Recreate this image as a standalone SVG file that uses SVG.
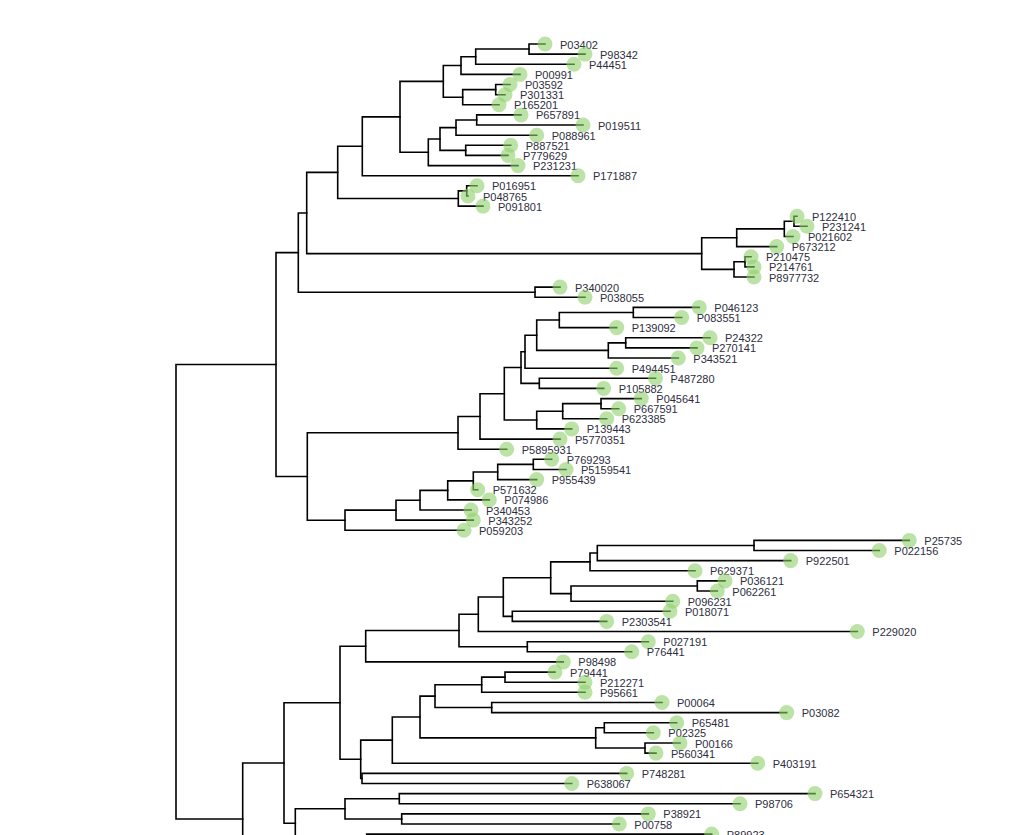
<svg xmlns="http://www.w3.org/2000/svg" width="1018" height="835" viewBox="0 0 1018 835">
<style>
.e{fill:none;stroke:#000;stroke-width:1.6;stroke-linecap:square}
.t circle{fill:#8fd16a;fill-opacity:.6;stroke:none}
.t text{font-family:"Liberation Sans",Arial,sans-serif;font-size:11px;fill:#2e2e3e}
</style>
<rect width="1018" height="835" fill="#fff"/>
<g id="connectors">
<path class="e" d="M545 44.0 H529 V54.1 H585"/>
<path class="e" d="M529 49.05 H475.7 V64.3 H574"/>
<path class="e" d="M475.7 56.7 H461 V74.4 H520"/>
<path class="e" d="M510 84.5 H495.7 V94.7 H505"/>
<path class="e" d="M495.7 89.6 H462.7 V104.8 H499"/>
<path class="e" d="M461 65.55 H443.3 V97.2 H462.7"/>
<path class="e" d="M521 114.9 H476.7 V125.0 H583"/>
<path class="e" d="M476.7 119.95 H456 V135.2 H536.7"/>
<path class="e" d="M510.7 145.3 H465.7 V155.4 H508"/>
<path class="e" d="M456 127.6 H440 V150.35 H465.7"/>
<path class="e" d="M440 139.0 H428.3 V165.6 H518"/>
<path class="e" d="M443.3 81.4 H400 V152.3 H428.3"/>
<path class="e" d="M400 116.85 H362.3 V175.7 H578"/>
<path class="e" d="M477 185.8 H466.7 V196.0 H468"/>
<path class="e" d="M466.7 190.9 H458.3 V206.1 H483"/>
<path class="e" d="M362.3 146.3 H337.7 V198.5 H458.3"/>
<path class="e" d="M797 216.2 H794 V226.3 H807"/>
<path class="e" d="M794 221.25 H784.3 V236.5 H793"/>
<path class="e" d="M784.3 228.9 H736.7 V246.6 H776.7"/>
<path class="e" d="M751 256.7 H745 V266.9 H754"/>
<path class="e" d="M745 261.8 H734 V277.0 H754"/>
<path class="e" d="M736.7 237.75 H701.7 V269.4 H734"/>
<path class="e" d="M337.7 172.4 H306.7 V253.6 H701.7"/>
<path class="e" d="M560 287.1 H535 V297.3 H585"/>
<path class="e" d="M306.7 213.0 H298.3 V292.2 H535"/>
<path class="e" d="M699.3 307.4 H633.3 V317.5 H681.7"/>
<path class="e" d="M633.3 312.45 H559.3 V327.6 H616.7"/>
<path class="e" d="M710 337.8 H625.7 V347.9 H697"/>
<path class="e" d="M625.7 342.85 H608.3 V358.0 H678.3"/>
<path class="e" d="M559.3 320.0 H536.7 V350.4 H608.3"/>
<path class="e" d="M536.7 335.2 H525 V368.2 H616.7"/>
<path class="e" d="M655.5 378.3 H539.3 V388.4 H603.7"/>
<path class="e" d="M525 351.7 H521 V383.35 H539.3"/>
<path class="e" d="M641.3 398.6 H601 V408.7 H618.7"/>
<path class="e" d="M601 403.65 H562.7 V418.8 H606.7"/>
<path class="e" d="M562.7 411.2 H536.7 V428.9 H571.7"/>
<path class="e" d="M521 367.5 H504.3 V420.05 H536.7"/>
<path class="e" d="M504.3 393.8 H480 V439.1 H560"/>
<path class="e" d="M480 416.45 H458 V449.2 H506.7"/>
<path class="e" d="M551.7 459.3 H533.3 V469.5 H566"/>
<path class="e" d="M533.3 464.4 H497.7 V479.6 H536.7"/>
<path class="e" d="M497.7 472.0 H473.3 V489.7 H477.7"/>
<path class="e" d="M473.3 480.85 H447.7 V499.9 H489.3"/>
<path class="e" d="M447.7 490.4 H420 V510.0 H471"/>
<path class="e" d="M420 500.2 H396 V520.1 H473.3"/>
<path class="e" d="M396 510.15 H345 V530.2 H464"/>
<path class="e" d="M458 432.8 H307.3 V520.2 H345"/>
<path class="e" d="M298.3 252.6 H276 V476.5 H307.3"/>
<path class="e" d="M909.3 540.4 H754 V550.5 H879.3"/>
<path class="e" d="M754 545.45 H597.3 V560.6 H790.7"/>
<path class="e" d="M597.3 553.0 H590 V570.8 H695"/>
<path class="e" d="M725 580.9 H697.3 V591.0 H717.3"/>
<path class="e" d="M697.3 585.95 H571 V601.2 H672.7"/>
<path class="e" d="M590 561.9 H550.7 V593.6 H571"/>
<path class="e" d="M670 611.3 H512.3 V621.4 H606.7"/>
<path class="e" d="M550.7 577.75 H503.3 V616.35 H512.3"/>
<path class="e" d="M503.3 597.05 H478.3 V631.5 H857.3"/>
<path class="e" d="M648.3 641.7 H527.3 V651.8 H631.7"/>
<path class="e" d="M478.3 614.3 H459 V646.75 H527.3"/>
<path class="e" d="M459 630.5 H365.7 V661.9 H563.3"/>
<path class="e" d="M555 672.1 H505 V682.2 H585"/>
<path class="e" d="M505 677.15 H481.7 V692.3 H585"/>
<path class="e" d="M662 702.5 H491.7 V712.6 H786.7"/>
<path class="e" d="M481.7 684.7 H435 V707.55 H491.7"/>
<path class="e" d="M676.7 722.7 H604.3 V732.8 H653.3"/>
<path class="e" d="M680 743.0 H645 V753.1 H656"/>
<path class="e" d="M604.3 727.75 H595.7 V748.05 H645"/>
<path class="e" d="M435 696.1 H420 V737.9 H595.7"/>
<path class="e" d="M420 717.0 H392.3 V763.2 H757.7"/>
<path class="e" d="M626.7 773.4 H362 V783.5 H571.7"/>
<path class="e" d="M392.3 740.1 H360.7 V778.45 H362"/>
<path class="e" d="M365.7 646.2 H340 V759.3 H360.7"/>
<path class="e" d="M815 793.6 H399.3 V803.8 H740"/>
<path class="e" d="M648.3 813.9 H401.7 V824.0 H619.3"/>
<path class="e" d="M399.3 798.7 H345 V818.95 H401.7"/>
<path class="e" d="M711.7 834.1 H366.7 V850"/>
<path class="e" d="M345 808.8 H295.3 V837.8 H366.7"/>
<path class="e" d="M340 702.75 H284 V823.3 H295.3"/>
<path class="e" d="M284 763.0 H242.7 V880"/>
<path class="e" d="M276 364.55 H176 V819 H242.7"/>
</g>
<g id="tip-P03402" class="t"><circle cx="545" cy="44.0" r="7.5"/><text x="560" y="48.5">P03402</text></g>
<g id="tip-P98342" class="t"><circle cx="585" cy="54.1" r="7.5"/><text x="600" y="58.6">P98342</text></g>
<g id="tip-P44451" class="t"><circle cx="574" cy="64.3" r="7.5"/><text x="589" y="68.8">P44451</text></g>
<g id="tip-P00991" class="t"><circle cx="520" cy="74.4" r="7.5"/><text x="535" y="78.9">P00991</text></g>
<g id="tip-P03592" class="t"><circle cx="510" cy="84.5" r="7.5"/><text x="525" y="89.0">P03592</text></g>
<g id="tip-P301331" class="t"><circle cx="505" cy="94.7" r="7.5"/><text x="520" y="99.2">P301331</text></g>
<g id="tip-P165201" class="t"><circle cx="499" cy="104.8" r="7.5"/><text x="514" y="109.3">P165201</text></g>
<g id="tip-P657891" class="t"><circle cx="521" cy="114.9" r="7.5"/><text x="536" y="119.4">P657891</text></g>
<g id="tip-P019511" class="t"><circle cx="583" cy="125.0" r="7.5"/><text x="598" y="129.5">P019511</text></g>
<g id="tip-P088961" class="t"><circle cx="536.7" cy="135.2" r="7.5"/><text x="551.7" y="139.7">P088961</text></g>
<g id="tip-P887521" class="t"><circle cx="510.7" cy="145.3" r="7.5"/><text x="525.7" y="149.8">P887521</text></g>
<g id="tip-P779629" class="t"><circle cx="508" cy="155.4" r="7.5"/><text x="523" y="159.9">P779629</text></g>
<g id="tip-P231231" class="t"><circle cx="518" cy="165.6" r="7.5"/><text x="533" y="170.1">P231231</text></g>
<g id="tip-P171887" class="t"><circle cx="578" cy="175.7" r="7.5"/><text x="593" y="180.2">P171887</text></g>
<g id="tip-P016951" class="t"><circle cx="477" cy="185.8" r="7.5"/><text x="492" y="190.3">P016951</text></g>
<g id="tip-P048765" class="t"><circle cx="468" cy="196.0" r="7.5"/><text x="483" y="200.5">P048765</text></g>
<g id="tip-P091801" class="t"><circle cx="483" cy="206.1" r="7.5"/><text x="498" y="210.6">P091801</text></g>
<g id="tip-P122410" class="t"><circle cx="797" cy="216.2" r="7.5"/><text x="812" y="220.7">P122410</text></g>
<g id="tip-P231241" class="t"><circle cx="807" cy="226.3" r="7.5"/><text x="822" y="230.8">P231241</text></g>
<g id="tip-P021602" class="t"><circle cx="793" cy="236.5" r="7.5"/><text x="808" y="241.0">P021602</text></g>
<g id="tip-P673212" class="t"><circle cx="776.7" cy="246.6" r="7.5"/><text x="791.7" y="251.1">P673212</text></g>
<g id="tip-P210475" class="t"><circle cx="751" cy="256.7" r="7.5"/><text x="766" y="261.2">P210475</text></g>
<g id="tip-P214761" class="t"><circle cx="754" cy="266.9" r="7.5"/><text x="769" y="271.4">P214761</text></g>
<g id="tip-P8977732" class="t"><circle cx="754" cy="277.0" r="7.5"/><text x="769" y="281.5">P8977732</text></g>
<g id="tip-P340020" class="t"><circle cx="560" cy="287.1" r="7.5"/><text x="575" y="291.6">P340020</text></g>
<g id="tip-P038055" class="t"><circle cx="585" cy="297.3" r="7.5"/><text x="600" y="301.8">P038055</text></g>
<g id="tip-P046123" class="t"><circle cx="699.3" cy="307.4" r="7.5"/><text x="714.3" y="311.9">P046123</text></g>
<g id="tip-P083551" class="t"><circle cx="681.7" cy="317.5" r="7.5"/><text x="696.7" y="322.0">P083551</text></g>
<g id="tip-P139092" class="t"><circle cx="616.7" cy="327.6" r="7.5"/><text x="631.7" y="332.1">P139092</text></g>
<g id="tip-P24322" class="t"><circle cx="710" cy="337.8" r="7.5"/><text x="725" y="342.3">P24322</text></g>
<g id="tip-P270141" class="t"><circle cx="697" cy="347.9" r="7.5"/><text x="712" y="352.4">P270141</text></g>
<g id="tip-P343521" class="t"><circle cx="678.3" cy="358.0" r="7.5"/><text x="693.3" y="362.5">P343521</text></g>
<g id="tip-P494451" class="t"><circle cx="616.7" cy="368.2" r="7.5"/><text x="631.7" y="372.7">P494451</text></g>
<g id="tip-P487280" class="t"><circle cx="655.5" cy="378.3" r="7.5"/><text x="670.5" y="382.8">P487280</text></g>
<g id="tip-P105882" class="t"><circle cx="603.7" cy="388.4" r="7.5"/><text x="618.7" y="392.9">P105882</text></g>
<g id="tip-P045641" class="t"><circle cx="641.3" cy="398.6" r="7.5"/><text x="656.3" y="403.1">P045641</text></g>
<g id="tip-P667591" class="t"><circle cx="618.7" cy="408.7" r="7.5"/><text x="633.7" y="413.2">P667591</text></g>
<g id="tip-P623385" class="t"><circle cx="606.7" cy="418.8" r="7.5"/><text x="621.7" y="423.3">P623385</text></g>
<g id="tip-P139443" class="t"><circle cx="571.7" cy="428.9" r="7.5"/><text x="586.7" y="433.4">P139443</text></g>
<g id="tip-P5770351" class="t"><circle cx="560" cy="439.1" r="7.5"/><text x="575" y="443.6">P5770351</text></g>
<g id="tip-P5895931" class="t"><circle cx="506.7" cy="449.2" r="7.5"/><text x="521.7" y="453.7">P5895931</text></g>
<g id="tip-P769293" class="t"><circle cx="551.7" cy="459.3" r="7.5"/><text x="566.7" y="463.8">P769293</text></g>
<g id="tip-P5159541" class="t"><circle cx="566" cy="469.5" r="7.5"/><text x="581" y="474.0">P5159541</text></g>
<g id="tip-P955439" class="t"><circle cx="536.7" cy="479.6" r="7.5"/><text x="551.7" y="484.1">P955439</text></g>
<g id="tip-P571632" class="t"><circle cx="477.7" cy="489.7" r="7.5"/><text x="492.7" y="494.2">P571632</text></g>
<g id="tip-P074986" class="t"><circle cx="489.3" cy="499.9" r="7.5"/><text x="504.3" y="504.4">P074986</text></g>
<g id="tip-P340453" class="t"><circle cx="471" cy="510.0" r="7.5"/><text x="486" y="514.5">P340453</text></g>
<g id="tip-P343252" class="t"><circle cx="473.3" cy="520.1" r="7.5"/><text x="488.3" y="524.6">P343252</text></g>
<g id="tip-P059203" class="t"><circle cx="464" cy="530.2" r="7.5"/><text x="479" y="534.7">P059203</text></g>
<g id="tip-P25735" class="t"><circle cx="909.3" cy="540.4" r="7.5"/><text x="924.3" y="544.9">P25735</text></g>
<g id="tip-P022156" class="t"><circle cx="879.3" cy="550.5" r="7.5"/><text x="894.3" y="555.0">P022156</text></g>
<g id="tip-P922501" class="t"><circle cx="790.7" cy="560.6" r="7.5"/><text x="805.7" y="565.1">P922501</text></g>
<g id="tip-P629371" class="t"><circle cx="695" cy="570.8" r="7.5"/><text x="710" y="575.3">P629371</text></g>
<g id="tip-P036121" class="t"><circle cx="725" cy="580.9" r="7.5"/><text x="740" y="585.4">P036121</text></g>
<g id="tip-P062261" class="t"><circle cx="717.3" cy="591.0" r="7.5"/><text x="732.3" y="595.5">P062261</text></g>
<g id="tip-P096231" class="t"><circle cx="672.7" cy="601.2" r="7.5"/><text x="687.7" y="605.7">P096231</text></g>
<g id="tip-P018071" class="t"><circle cx="670" cy="611.3" r="7.5"/><text x="685" y="615.8">P018071</text></g>
<g id="tip-P2303541" class="t"><circle cx="606.7" cy="621.4" r="7.5"/><text x="621.7" y="625.9">P2303541</text></g>
<g id="tip-P229020" class="t"><circle cx="857.3" cy="631.5" r="7.5"/><text x="872.3" y="636.0">P229020</text></g>
<g id="tip-P027191" class="t"><circle cx="648.3" cy="641.7" r="7.5"/><text x="663.3" y="646.2">P027191</text></g>
<g id="tip-P76441" class="t"><circle cx="631.7" cy="651.8" r="7.5"/><text x="646.7" y="656.3">P76441</text></g>
<g id="tip-P98498" class="t"><circle cx="563.3" cy="661.9" r="7.5"/><text x="578.3" y="666.4">P98498</text></g>
<g id="tip-P79441" class="t"><circle cx="555" cy="672.1" r="7.5"/><text x="570" y="676.6">P79441</text></g>
<g id="tip-P212271" class="t"><circle cx="585" cy="682.2" r="7.5"/><text x="600" y="686.7">P212271</text></g>
<g id="tip-P95661" class="t"><circle cx="585" cy="692.3" r="7.5"/><text x="600" y="696.8">P95661</text></g>
<g id="tip-P00064" class="t"><circle cx="662" cy="702.5" r="7.5"/><text x="677" y="707.0">P00064</text></g>
<g id="tip-P03082" class="t"><circle cx="786.7" cy="712.6" r="7.5"/><text x="801.7" y="717.1">P03082</text></g>
<g id="tip-P65481" class="t"><circle cx="676.7" cy="722.7" r="7.5"/><text x="691.7" y="727.2">P65481</text></g>
<g id="tip-P02325" class="t"><circle cx="653.3" cy="732.8" r="7.5"/><text x="668.3" y="737.3">P02325</text></g>
<g id="tip-P00166" class="t"><circle cx="680" cy="743.0" r="7.5"/><text x="695" y="747.5">P00166</text></g>
<g id="tip-P560341" class="t"><circle cx="656" cy="753.1" r="7.5"/><text x="671" y="757.6">P560341</text></g>
<g id="tip-P403191" class="t"><circle cx="757.7" cy="763.2" r="7.5"/><text x="772.7" y="767.7">P403191</text></g>
<g id="tip-P748281" class="t"><circle cx="626.7" cy="773.4" r="7.5"/><text x="641.7" y="777.9">P748281</text></g>
<g id="tip-P638067" class="t"><circle cx="571.7" cy="783.5" r="7.5"/><text x="586.7" y="788.0">P638067</text></g>
<g id="tip-P654321" class="t"><circle cx="815" cy="793.6" r="7.5"/><text x="830" y="798.1">P654321</text></g>
<g id="tip-P98706" class="t"><circle cx="740" cy="803.8" r="7.5"/><text x="755" y="808.3">P98706</text></g>
<g id="tip-P38921" class="t"><circle cx="648.3" cy="813.9" r="7.5"/><text x="663.3" y="818.4">P38921</text></g>
<g id="tip-P00758" class="t"><circle cx="619.3" cy="824.0" r="7.5"/><text x="634.3" y="828.5">P00758</text></g>
<g id="tip-P89923" class="t"><circle cx="711.7" cy="834.1" r="7.5"/><text x="726.7" y="838.6">P89923</text></g>
</svg>
